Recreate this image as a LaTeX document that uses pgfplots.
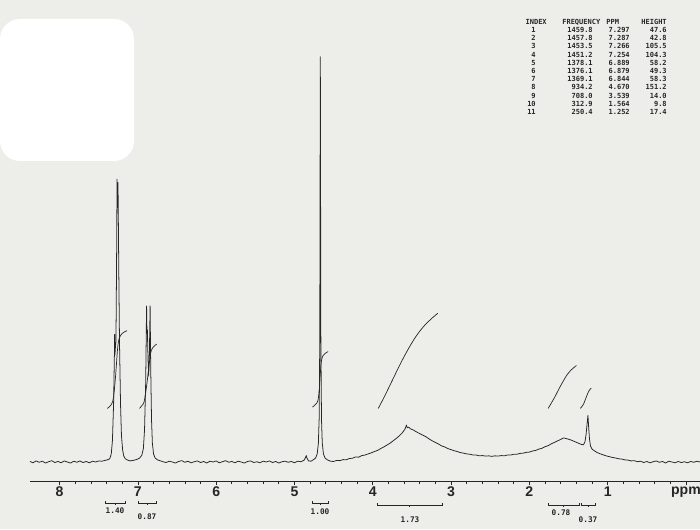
\documentclass[border=0pt]{standalone}
\usepackage{fontspec}
\setmainfont{Liberation Sans}
\setmonofont{DejaVu Sans Mono}
\usepackage{pgfplots}
\pgfplotsset{compat=1.18}
\definecolor{paper}{RGB}{237,237,234}
\definecolor{ink}{RGB}{38,38,38}

\begin{document}
\begin{tikzpicture}
% paper
\fill[paper] (-0.75,-1.2) rectangle (16.75,12.025);
\fill[white, rounded corners=0.5cm] (-0.75,8.0) rectangle (2.6,11.55);

\begin{axis}[
  at={(0,0)}, anchor=south west,
  scale only axis, width=16.75cm, height=12.025cm,
  x dir=reverse, xmin=-0.179, xmax=8.378, ymin=-7.09, ymax=172.39,
  axis x line*=bottom, axis y line=none,
  axis line style={ink, line width=0.6pt, -},
  xtick={0,...,8}, xticklabels={ppm,1,2,3,4,5,6,7,8},
  minor x tick num=4, tick align=outside,
  major tick length=0.11cm, minor tick length=0.07cm,
  tick style={ink, line width=0.5pt},
  xticklabel style={font=\fontsize{10}{10}\selectfont\bfseries, inner sep=1pt, text=ink},
  /pgf/number format/assume math mode=true,
  clip=false,
]
% spectrum
\addplot[ink, line width=0.55pt, line join=round] coordinates {
(8.378,0.2) (8.34,-0.3) (8.30,0.4) (8.26,-0.1) (8.22,0.3) (8.18,-0.4) (8.14,0.1)
(8.10,0.5) (8.06,-0.2) (8.02,0.2) (7.98,-0.3) (7.94,0.4) (7.90,0.0) (7.86,-0.4)
(7.82,0.3) (7.78,-0.1) (7.74,0.4) (7.70,-0.2) (7.66,0.2) (7.62,-0.3) (7.58,0.3)
(7.54,0.0) (7.50,0.4) (7.46,0.3) (7.42,0.6) (7.39,0.8)
(7.36,1.2) (7.34,3) (7.325,8) (7.31,22) (7.30,40) (7.297,47.6) (7.293,40)
(7.287,42.8) (7.28,45) (7.272,75) (7.266,105.5) (7.260,95) (7.254,104.3)
(7.245,75) (7.235,45) (7.222,22) (7.21,10) (7.195,4.5) (7.18,2.2) (7.16,1.2)
(7.13,0.7) (7.10,0.4) (7.06,0.6) (7.02,0.9)
(6.98,1.4) (6.95,2.5) (6.93,5) (6.915,12) (6.90,30) (6.889,58.2) (6.884,48)
(6.879,49.3) (6.870,38) (6.862,32) (6.853,40) (6.844,58.3) (6.836,35)
(6.826,16) (6.815,7) (6.80,3) (6.78,1.5) (6.75,0.8) (6.71,0.4) (6.68,0.1)
(6.64,-0.2) (6.60,0.3) (6.56,0.0) (6.52,-0.4) (6.48,0.2) (6.44,0.5) (6.40,-0.1)
(6.36,0.3) (6.32,-0.3) (6.28,0.1) (6.24,0.4) (6.20,-0.2) (6.16,0.2) (6.12,-0.4)
(6.08,0.3) (6.04,0.0) (6.00,0.4) (5.96,-0.3) (5.92,0.1) (5.88,0.5) (5.84,-0.1)
(5.80,0.2) (5.76,-0.3) (5.72,0.3) (5.68,0.0) (5.64,-0.4) (5.60,0.2) (5.56,0.4)
(5.52,-0.2) (5.48,0.1) (5.44,-0.3) (5.40,0.3) (5.36,0.0) (5.32,0.4) (5.28,-0.2)
(5.24,0.2) (5.20,-0.4) (5.16,0.1) (5.12,0.3) (5.08,-0.1) (5.04,0.2) (5.00,-0.3)
(4.96,0.3) (4.92,0.1) (4.88,0.6) (4.86,1.6) (4.85,2.4) (4.84,1.4) (4.82,0.4)
(4.79,0.3)
(4.76,0.8) (4.73,1.5) (4.71,3) (4.695,7) (4.685,16) (4.677,45) (4.670,151.2)
(4.663,45) (4.655,16) (4.645,7) (4.63,3) (4.61,1.5) (4.58,0.8)
(4.54,0.3) (4.50,0.2) (4.46,0.6) (4.42,0.5) (4.38,0.9) (4.34,0.8) (4.30,1.3)
(4.26,1.4) (4.22,1.9) (4.18,1.8) (4.14,2.4) (4.10,2.6) (4.06,3.0) (4.02,3.4)
(3.98,3.9) (3.94,4.3) (3.90,5.0) (3.86,5.6) (3.82,6.3) (3.78,7.0) (3.74,7.9)
(3.70,8.8) (3.66,9.8) (3.62,11.0) (3.59,12.2) (3.57,13.8) (3.56,12.8)
(3.54,13.0) (3.52,12.4) (3.48,11.9) (3.44,11.2) (3.40,10.6) (3.36,10.0)
(3.32,9.4) (3.28,8.6) (3.24,7.9) (3.20,7.3) (3.16,6.7) (3.12,6.0) (3.08,5.6)
(3.04,5.0) (3.00,4.6) (2.96,4.2) (2.92,3.9) (2.88,3.5) (2.84,3.3) (2.80,3.0)
(2.76,2.9) (2.72,2.6) (2.68,2.6) (2.64,2.3) (2.60,2.4) (2.56,2.2) (2.52,2.3)
(2.48,2.1) (2.44,2.3) (2.40,2.2) (2.36,2.4) (2.32,2.3) (2.28,2.6) (2.24,2.6)
(2.20,2.9) (2.16,2.9) (2.12,3.2) (2.08,3.3) (2.04,3.6) (2.00,3.7) (1.96,4.1)
(1.92,4.3) (1.88,4.8) (1.84,5.1) (1.80,5.7) (1.76,6.1) (1.72,6.8) (1.68,7.3)
(1.64,7.9) (1.60,8.4) (1.564,9.0) (1.54,8.8) (1.50,8.5) (1.46,8.1) (1.42,7.6)
(1.38,7.1) (1.34,6.6) (1.31,6.4) (1.29,7.5) (1.275,10.5) (1.262,14.5)
(1.252,17.4) (1.243,13) (1.232,8.5) (1.22,6.0) (1.20,4.8) (1.17,4.2) (1.14,3.6)
(1.10,3.1) (1.06,2.7) (1.02,2.3) (0.98,2.0) (0.94,1.7) (0.90,1.5) (0.86,1.2)
(0.82,1.1) (0.78,0.8) (0.74,0.7) (0.70,0.4) (0.66,0.5) (0.62,0.1)
(0.58,0.3) (0.54,-0.2) (0.50,0.2) (0.46,-0.3) (0.42,0.1) (0.38,0.4)
(0.34,-0.1) (0.30,0.2) (0.26,-0.4) (0.22,0.3) (0.18,0.0) (0.14,-0.3) (0.10,0.2)
(0.06,-0.2) (0.02,0.1) (-0.02,-0.3) (-0.06,0.2) (-0.10,-0.1) (-0.14,0.3)
(-0.179,0.0)
};
% integral traces
\addplot[ink, line width=0.5pt, smooth] coordinates {
(7.39,20.0) (7.35,21.0) (7.32,22.8) (7.30,27) (7.28,34) (7.26,42) (7.24,46) (7.20,48) (7.14,49)};
\addplot[ink, line width=0.5pt, smooth] coordinates {
(6.98,20.0) (6.95,21.0) (6.92,22.5) (6.89,28) (6.87,33) (6.85,38) (6.83,41.5) (6.80,43) (6.76,44)};
\addplot[ink, line width=0.5pt, smooth] coordinates {
(4.77,20.5) (4.73,21.5) (4.70,23) (4.68,28) (4.67,33) (4.66,37) (4.64,39.5) (4.61,40.5) (4.57,41.2)};
\addplot[ink, line width=0.5pt, smooth] coordinates {
(3.93,20) (3.85,24.5) (3.75,30.5) (3.65,36.5) (3.55,42) (3.45,46.8) (3.35,50.6) (3.25,53.5) (3.17,55.5)};
\addplot[ink, line width=0.5pt, smooth] coordinates {
(1.76,20) (1.68,24) (1.60,28.5) (1.52,32.5) (1.46,34.5) (1.40,36)};
\addplot[ink, line width=0.5pt, smooth] coordinates {
(1.35,20) (1.31,21.5) (1.27,24.5) (1.24,26.5) (1.21,27.6)};
\end{axis}

% peak table
\begin{scope}[font=\fontsize{5}{6}\selectfont\ttfamily\bfseries, text=ink, inner sep=0pt]
\node[anchor=east] at (12.925,11.475) {INDEX};
\node[anchor=west] at (13.3,11.475) {FREQUENCY};
\node[anchor=west] at (14.4,11.475) {PPM};
\node[anchor=east] at (15.925,11.475) {HEIGHT};
\foreach \i/\f/\p/\h [count=\n from 0] in {
  1/1459.8/7.297/47.6, 2/1457.8/7.287/42.8, 3/1453.5/7.266/105.5,
  4/1451.2/7.254/104.3, 5/1378.1/6.889/58.2, 6/1376.1/6.879/49.3,
  7/1369.1/6.844/58.3, 8/934.2/4.670/151.2, 9/708.0/3.539/14.0,
  10/312.9/1.564/9.8, 11/250.4/1.252/17.4}{
  \pgfmathsetmacro\yy{11.275-0.205*\n}
  \node[anchor=east] at (12.65,\yy) {\i};
  \node[anchor=east] at (14.075,\yy) {\f};
  \node[anchor=east] at (15.0,\yy) {\p};
  \node[anchor=east] at (15.925,\yy) {\h};
}
\end{scope}

% integral brackets
\foreach \a/\b/\y/\lx/\ly/\t in {
  1.875/2.375/-0.55/2.125/-0.75/1.40, 2.7/3.15/-0.55/2.925/-0.9/0.87,
  7.05/7.45/-0.55/7.25/-0.775/1.00, 8.675/10.3/-0.6/9.5/-0.975/1.73,
  12.95/13.725/-0.6/13.275/-0.8/0.78, 13.775/14.125/-0.6/13.95/-0.975/0.37}{
  \draw[ink, line width=0.5pt] (\a,\y+0.05) -- (\a,\y) -- (\b,\y) -- (\b,\y+0.05);
  \draw[ink, line width=0.5pt] ({(\a+\b)/2},\y) -- ++(0,-0.05);
  \node[font=\fontsize{5.5}{6}\selectfont\ttfamily\bfseries, text=ink, inner sep=0pt] at (\lx,\ly) {\t};
}

\pgfresetboundingbox
\useasboundingbox (-0.75,-1.2) rectangle (16.75,12.025);
\end{tikzpicture}
\end{document}
